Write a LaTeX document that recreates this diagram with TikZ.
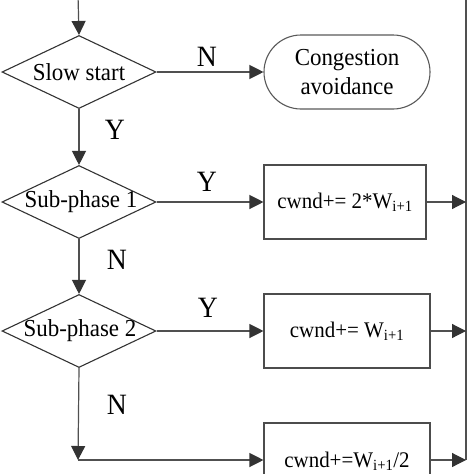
\documentclass[tikz,border=0pt]{standalone}
\usepackage{fontspec}
\setmainfont{Liberation Serif}[FakeStretch=0.94]
\usetikzlibrary{shapes.geometric,shapes.misc,arrows.meta}
\definecolor{lncol}{HTML}{505050}
\definecolor{tipcol}{HTML}{333333}
\begin{document}
\begin{tikzpicture}[x=1pt,y=-1pt,
  line/.style={draw=lncol,line width=1.2pt},
  arr/.style={line,-{Triangle[length=14pt,width=14pt,color=tipcol]}},
  decision/.style={shape=diamond,draw=black!80,line width=1.1pt,inner sep=0pt,minimum width=154pt,minimum height=73pt},
  dectext/.style={font=\fontsize{24.4}{27}\selectfont},
  pill/.style={shape=rounded rectangle,draw=black!65,line width=1.1pt,minimum width=166pt,minimum height=74pt,inner sep=0pt,align=center,font=\fontsize{24.4}{29}\selectfont},
  procbox/.style={draw=black!70,line width=1.1pt,inner sep=0pt,font=\fontsize{22.3}{25}\selectfont},
  yn/.style={font=\fontsize{29.5}{31}\selectfont,inner sep=0pt}]
\path[use as bounding box,clip] (0,0) rectangle (474,474);
\coordinate (top) at (78,-5);
\coordinate (rtop) at (466,-5);
\node[decision] (d1) at (79,72) {};
\node[dectext] (t1) at (79,72) {Slow start};
\node[decision] (d2) at (79,202) {};
\node[dectext] (t2) at (81,202) {Sub-phase 1};
\node[decision] (d3) at (79,331) {};
\node[dectext] (t3) at (80,331) {Sub-phase 2};
\node[pill] (ca) at (347,72) {Congestion\\avoidance};
\node[procbox,minimum width=162pt,minimum height=74pt] (b1) at (345,202) {cwnd+= 2*W\textsubscript{i+1}};
\node[procbox,minimum width=166pt,minimum height=74pt] (b2) at (347,331) {cwnd+= W\textsubscript{i+1}};
\node[procbox,minimum width=166pt,minimum height=76pt] (b3) at (347,461) {cwnd+=W\textsubscript{i+1}/2};
\coordinate (corner) at (78,460);
\coordinate (r1) at (466,202);
\coordinate (r2) at (466,331);
\coordinate (r3) at (466,460);
\node[yn] (n1) at (207,57) {N};
\node[yn] (y1) at (115,130) {Y};
\node[yn] (y2) at (207,182) {Y};
\node[yn] (n2) at (117,260) {N};
\node[yn] (y3) at (208,308) {Y};
\node[yn] (n3) at (117,405) {N};
\draw[arr] (top) -- (d1.north);
\draw[arr] (d1.east) -- (ca.west);
\draw[arr] (d1.south) -- (d2.north);
\draw[arr] (d2.east) -- (b1.west);
\draw[arr] (d2.south) -- (d3.north);
\draw[arr] (d3.east) -- (b2.west);
\draw[arr] (d3.south) -- (corner);
\draw[arr] (corner) -- (b3.west |- corner);
\draw[line] (rtop) -- (r3);
\draw[arr] (b1.east) -- (r1);
\draw[arr] (b2.east) -- (r2);
\draw[arr] (b3.east |- r3) -- (r3);
\end{tikzpicture}
\end{document}
